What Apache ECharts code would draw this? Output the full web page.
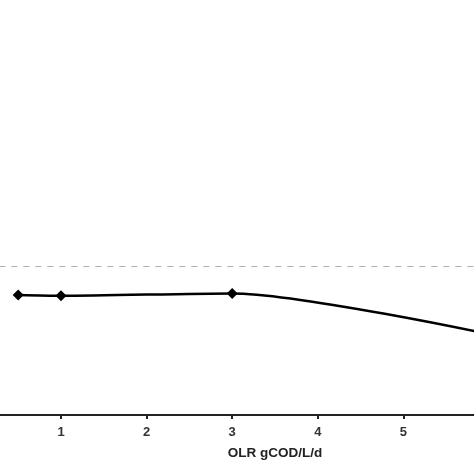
<!DOCTYPE html>
<html><head><meta charset="utf-8">
<script src="https://cdn.jsdelivr.net/npm/echarts@6/dist/echarts.min.js"></script>
<style>html,body{margin:0;padding:0;background:#fff}#c{width:474px;height:474px}</style>
</head><body><div id="c"></div>
<script>
const olr = [0.5, 1, 3, 6];
const values = [30, 29.8, 30.4, 20.2];
const referenceLevel = 37.25;
const xTicks = [1, 2, 3, 4, 5, 6];
const xTitle = 'OLR gCOD/L/d';

const chart = echarts.init(document.getElementById('c'));
chart.setOption({
  animation: false,
  grid: { left: -24.6, right: -100.6, top: 15, bottom: 59, outerBoundsMode: 'none', containLabel: false },
  xAxis: {
    type: 'value', min: 0, max: 7, interval: 1,
    name: xTitle, nameLocation: 'middle', nameGap: 31,
    nameTextStyle: { fontFamily: 'Liberation Sans', fontSize: 13.5, fontWeight: 'bold', color: '#222' },
    axisLine: { lineStyle: { color: '#222', width: 2 } },
    axisTick: { show: true, length: 4, lineStyle: { color: '#222', width: 2 } },
    axisLabel: { fontFamily: 'Liberation Sans', fontSize: 13, fontWeight: 'bold', color: '#333', margin: 11,
      formatter: v => xTicks.includes(v) ? String(v) : '' },
    splitLine: { show: false }
  },
  yAxis: { type: 'value', min: 0, max: 100, show: false },
  series: [{
    type: 'line', data: olr.map((x, i) => [x, values[i]]),
    smooth: 0.25, symbol: 'diamond', symbolSize: 11,
    lineStyle: { color: '#000', width: 2.5 }, itemStyle: { color: '#000' },
    markLine: { silent: true, symbol: 'none', label: { show: false },
      lineStyle: { color: '#b0b0b0', type: [6, 6], width: 1.2 },
      data: [{ yAxis: referenceLevel }] }
  }]
});
</script></body></html>
